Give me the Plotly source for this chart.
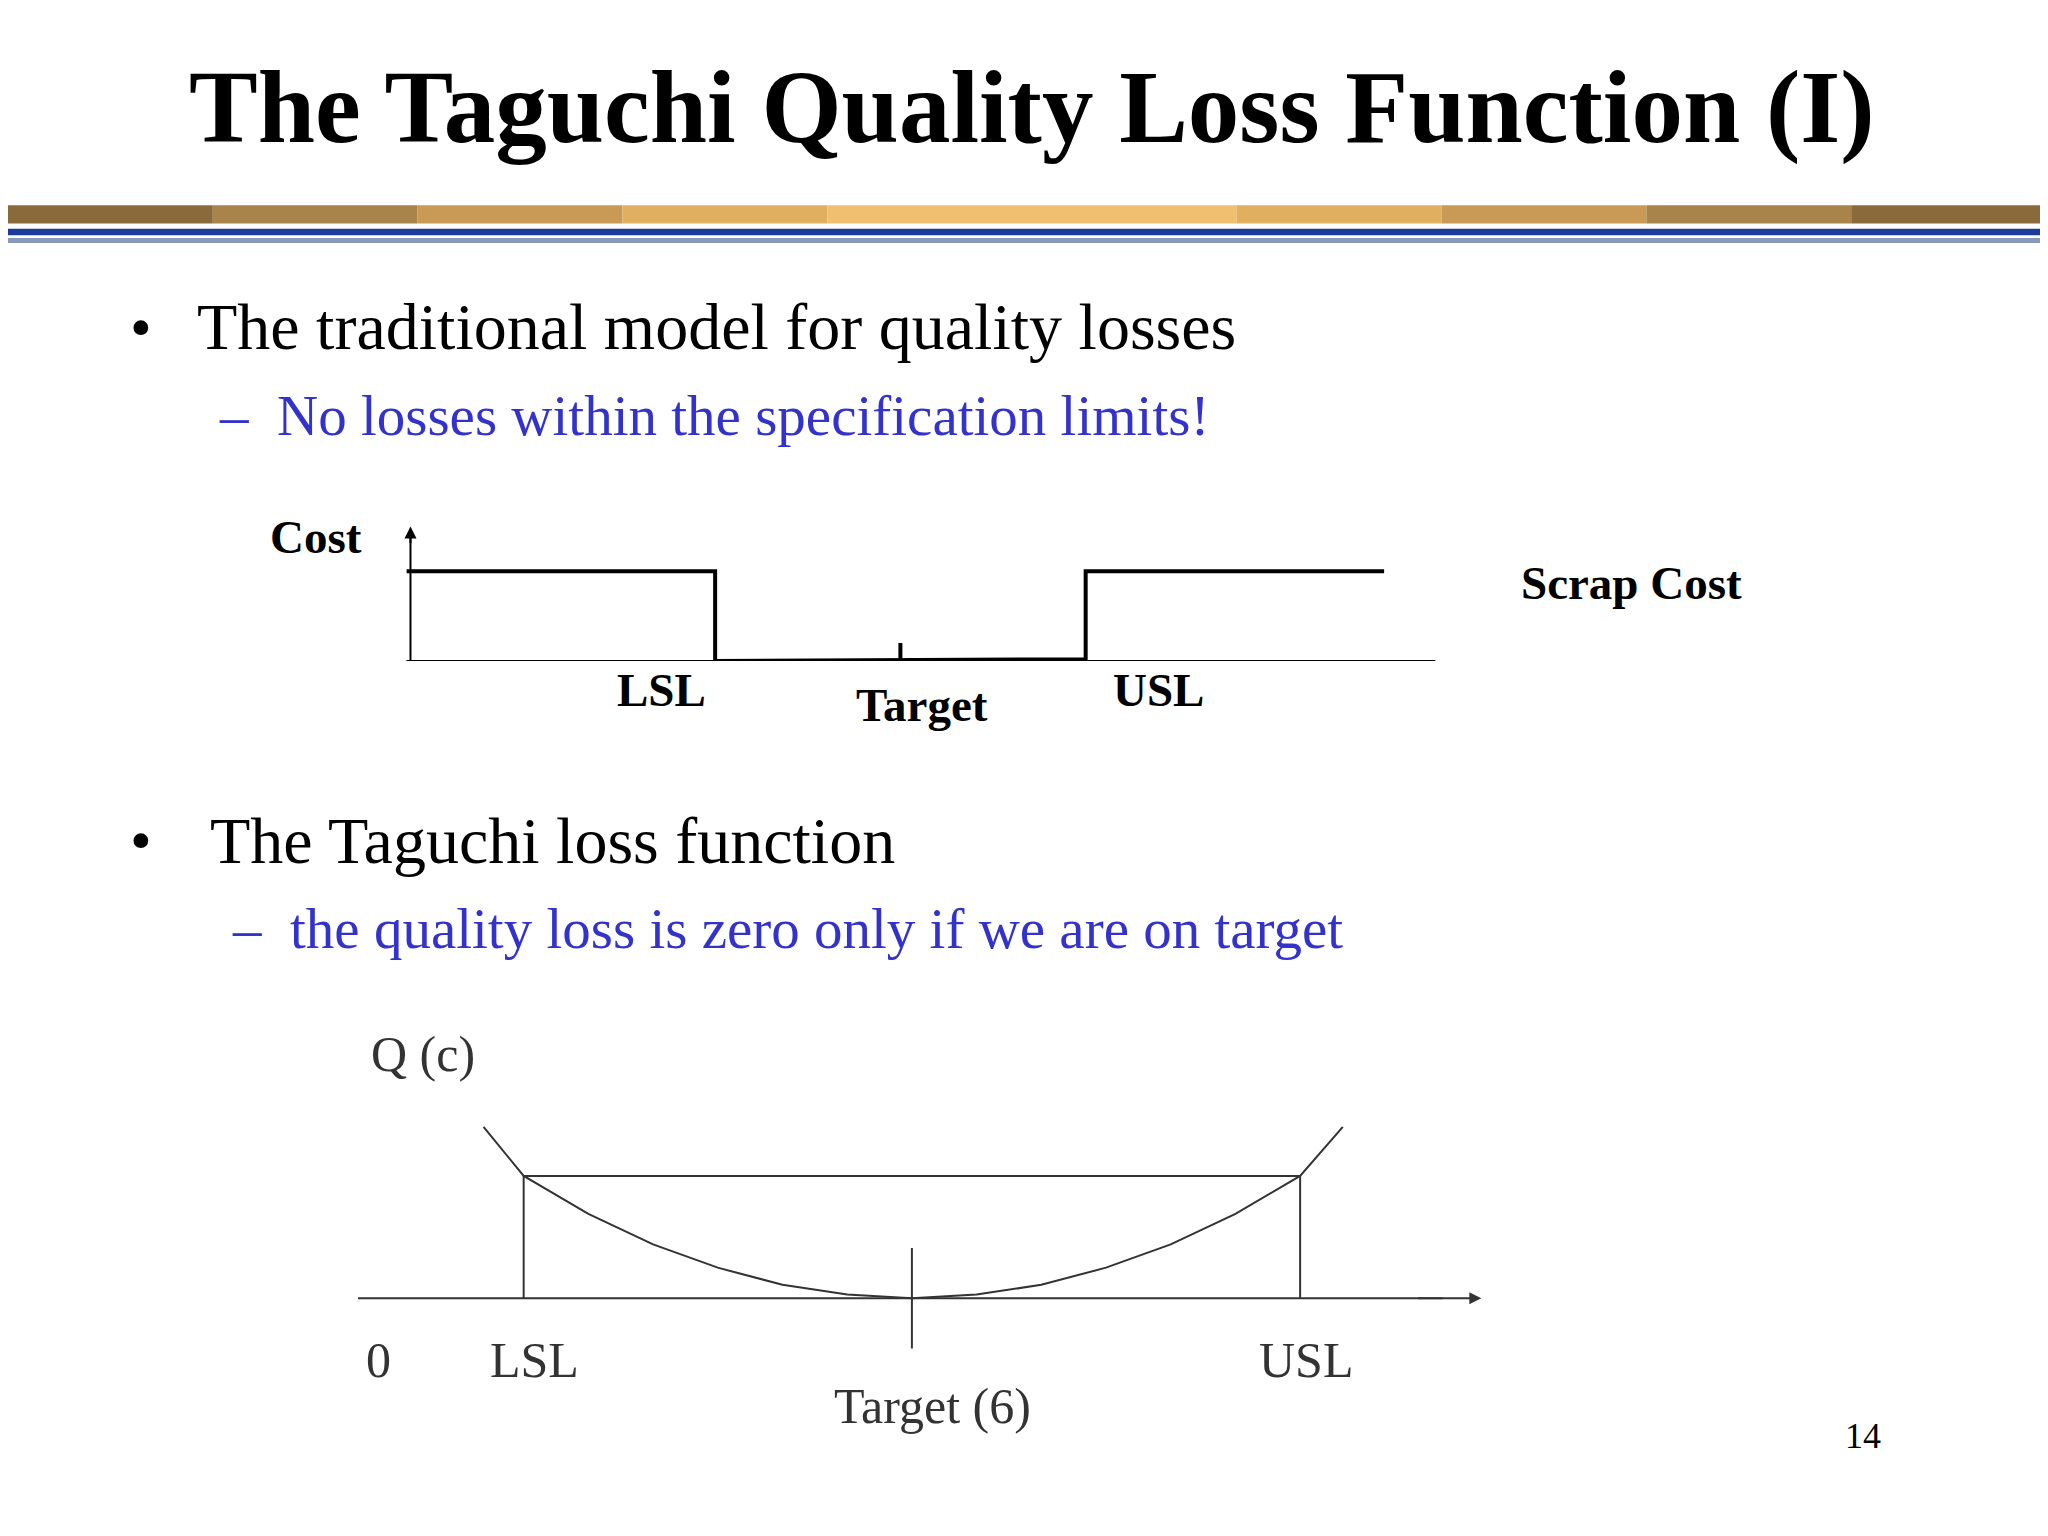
import plotly.graph_objects as go

# traditional step model (x in arbitrary units, target ~4.8)
step_x = [0, 3, 3, 6.6, 6.6, 9.5]
step_y = [1, 1, 0, 0.02, 1, 1]
target_x = 4.8

# taguchi loss
loss_x = [2.69, 3, 3.5, 4, 4.5, 5, 5.5, 6, 6.5, 7, 7.5, 8, 8.5, 9, 9.33]
loss_y = [1.4, 1.0, 0.69, 0.44, 0.25, 0.11, 0.03, 0, 0.03, 0.11, 0.25, 0.44, 0.69, 1.0, 1.4]
lsl, usl, target = 3, 9, 6

W, H = 1568, 1176  # layout reference units
def px(x): return x / W
def py(y): return 1 - (y - 6) / H

SERIF = "Liberation Serif"
fig = go.Figure()

# top chart
fig.add_trace(go.Scatter(x=step_x, y=step_y, mode="lines", line=dict(color="black", width=4),
                         xaxis="x", yaxis="y", showlegend=False))
fig.add_trace(go.Scatter(x=[-0.03, 10], y=[0, 0], mode="lines", line=dict(color="black", width=2),
                         xaxis="x", yaxis="y", showlegend=False))
fig.add_trace(go.Scatter(x=[0.04, 0.04], y=[0, 1.4], mode="lines", line=dict(color="black", width=2),
                         xaxis="x", yaxis="y", showlegend=False))
fig.add_trace(go.Scatter(x=[target_x, target_x], y=[-0.05, 0.2], mode="lines", line=dict(color="black", width=4),
                         xaxis="x", yaxis="y", showlegend=False))

# bottom chart
fig.add_trace(go.Scatter(x=loss_x, y=loss_y, mode="lines", line=dict(color="#333", width=2),
                         xaxis="x2", yaxis="y2", showlegend=False))
fig.add_trace(go.Scatter(x=[lsl, lsl, usl, usl], y=[0, 1, 1, 0], mode="lines", line=dict(color="#333", width=2),
                         xaxis="x2", yaxis="y2", showlegend=False))
fig.add_trace(go.Scatter(x=[1.72, 10.1], y=[0, 0], mode="lines", line=dict(color="#333", width=2),
                         xaxis="x2", yaxis="y2", showlegend=False))
fig.add_trace(go.Scatter(x=[target, target], y=[-0.41, 0.41], mode="lines", line=dict(color="#333", width=2),
                         xaxis="x2", yaxis="y2", showlegend=False))

ax = dict(visible=False, fixedrange=True)
fig.update_layout(
    width=2048, height=1536, margin=dict(l=0, r=0, t=0, b=0),
    paper_bgcolor="white", plot_bgcolor="rgba(0,0,0,0)",
    xaxis=dict(ax, domain=[px(305), px(1093)], range=[0, 10]),
    yaxis=dict(ax, domain=[py(506), py(403)], range=[0, 1.5]),
    xaxis2=dict(ax, domain=[px(266), px(1128)], range=[1.7, 10.4]),
    yaxis2=dict(ax, domain=[py(1036), py(858)], range=[-0.45, 1.45]),
)

# header band
for y0, y1, c in [(175, 180, "#1d3c9a"), (182, 186, "#8899bb")]:
    fig.add_shape(type="rect", xref="paper", yref="paper", x0=0, x1=1, y0=py(y1), y1=py(y0),
                  fillcolor=c, line_width=0, layer="below")
band = ["#8a6a3a", "#a8844a", "#c89a55", "#e0b060", "#f0c070", "#f0c070",
        "#e0b060", "#c89a55", "#a8844a", "#8a6a3a"]
for i, c in enumerate(band):
    fig.add_shape(type="rect", xref="paper", yref="paper", x0=i / len(band), x1=(i + 1) / len(band),
                  y0=py(171), y1=py(157), fillcolor=c, line_width=0, layer="below")

def txt(s, x, y, size, color="black", bold=False, anchor="left", font=SERIF):
    fig.add_annotation(text=f"<b>{s}</b>" if bold else s, x=px(x), y=py(y), xref="paper", yref="paper",
                       xanchor=anchor, yanchor="middle", showarrow=False,
                       font=dict(family=font, size=size, color=color))

txt("The Taguchi Quality Loss Function (I)", 784, 82, 103, bold=True, anchor="center")
txt("•", 92, 250, 62)
txt("The traditional model for quality losses", 143, 250, 66)
txt("–  No losses within the specification limits!", 160, 318, 57, color="#3333cc")
txt("•", 92, 643, 62)
txt("The Taguchi loss function", 153, 643, 66)
txt("–  the quality loss is zero only if we are on target", 170, 711, 57, color="#3333cc")

txt("Cost", 236, 411, 47, bold=True, anchor="center")
txt("LSL", 500, 528, 47, bold=True, anchor="center")
txt("Target", 700, 540, 47, bold=True, anchor="center")
txt("USL", 881, 528, 47, bold=True, anchor="center")
txt("Scrap Cost", 1243, 446, 47, bold=True, anchor="center")

g = "#333333"
txt("Q (c)", 318, 807, 50, color=g, anchor="center")
txt("0", 284, 1041, 50, color=g, anchor="center")
txt("LSL", 403, 1041, 50, color=g, anchor="center")
txt("USL", 994, 1041, 50, color=g, anchor="center")
txt("Target (6)", 708, 1076, 50, color=g, anchor="center")
txt("14", 1420, 1099, 36, anchor="center")

# arrow heads
fig.add_annotation(x=0.04, y=1.5, ax=0.04, ay=1.3, xref="x", yref="y", axref="x", ayref="y",
                   text="", showarrow=True, arrowhead=2, arrowsize=1.2, arrowwidth=2, arrowcolor="black")
fig.add_annotation(x=10.4, y=0, ax=9.9, ay=0, xref="x2", yref="y2", axref="x2", ayref="y2",
                   text="", showarrow=True, arrowhead=2, arrowsize=1.2, arrowwidth=2, arrowcolor="#333")

fig.write_html("out.html")
